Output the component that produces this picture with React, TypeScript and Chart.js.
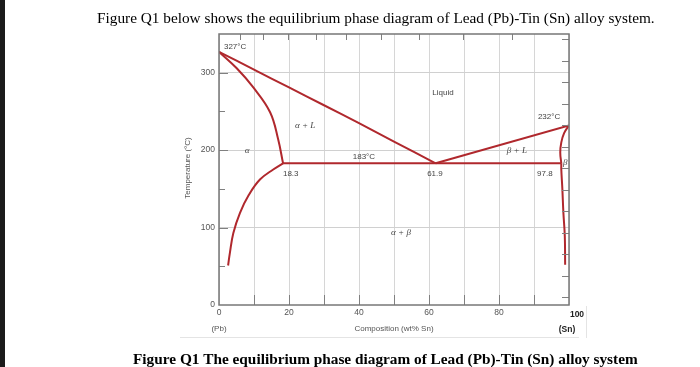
import React, { useEffect, useRef } from "react";
import { Chart, registerables } from "chart.js";

Chart.register(...registerables);

// ---- data (wt% Sn, temperature °C) ----
const liquidusLeftX = [0, 10, 20, 30, 40, 50, 61.9];
const liquidusLeftT = [327, 304, 281, 258, 235, 211, 183];
const liquidusRightX = [61.9, 100];
const liquidusRightT = [183, 232];
const alphaSolidusX = [0, 5, 9.8, 14.6, 16.9, 18.3];
const alphaSolidusT = [327, 306, 281, 249, 214, 183];
const eutecticX = [18.3, 97.8];
const eutecticT = [183, 183];
const alphaSolvusX = [18.3, 15.5, 11.7, 8.5, 6, 4.1, 3.1, 2.6];
const alphaSolvusT = [183, 175, 162, 142, 119, 93, 67, 51];
const betaSolidusX = [100, 98.6, 97.8, 97.5, 97.8];
const betaSolidusT = [232, 222, 210, 197, 183];
const betaSolvusX = [97.8, 97.8, 98.1, 98.4, 98.8, 98.9];
const betaSolvusT = [183, 175, 150, 119, 89, 52];

// axis ticks
const xTickValues = [0, 20, 40, 60, 80];
const yTickValues = [0, 100, 200, 300];
const atPercentTicksInWt = [6, 12.5, 19.7, 27.6, 36.4, 46.2, 57.2, 69.6, 83.8];
const fahrenheitTicksInC = [10, 37.8, 65.6, 93.3, 121.1, 148.9, 176.7, 204.4, 232.2, 260, 287.8, 315.6, 343.3];

// in-diagram labels
const labelTexts = ["327°C", "α + L", "α", "18.3", "183°C", "Liquid", "232°C", "β + L", "β", "61.9", "97.8", "α + β"];
const labelX = [4.6, 24.6, 8, 20.5, 41.4, 64, 94.3, 85.1, 98.9, 61.7, 93.1, 52];
const labelT = [334, 231, 200, 169, 192, 274, 243, 199, 184, 170, 170, 93.5];

const RED = "#b0282d";

function pts(xs: number[], ts: number[]) {
  return xs.map((x, i) => ({ x, y: ts[i] }));
}

const SANS = '"Liberation Sans", Arial, sans-serif';
const SERIF = '"Liberation Serif", "Times New Roman", serif';

const decor = {
  id: "decor",
  beforeDraw(chart: any) {
    const ctx = chart.ctx;
    ctx.save();
    ctx.fillStyle = "#ffffff";
    ctx.fillRect(0, 0, chart.width, chart.height);
    ctx.fillStyle = "#1b1b1b";
    ctx.fillRect(0, 0, 5, chart.height);
    ctx.restore();
  },
  afterDraw(chart: any) {
    const ctx = chart.ctx;
    const a = chart.chartArea;
    const xs = chart.scales.x;
    const ys = chart.scales.y;
    ctx.save();
    // inward ticks
    ctx.strokeStyle = "#808080";
    ctx.lineWidth = 1;
    ctx.beginPath();
    for (let v = 50; v < 350; v += 50) {
      const y = Math.round(ys.getPixelForValue(v)) + 0.5;
      ctx.moveTo(a.left, y);
      ctx.lineTo(a.left + (v % 100 === 0 ? 9 : 6), y);
    }
    for (let v = 10; v < 100; v += 10) {
      const x = Math.round(xs.getPixelForValue(v)) + 0.5;
      ctx.moveTo(x, a.bottom);
      ctx.lineTo(x, a.bottom - 10);
    }
    atPercentTicksInWt.forEach((v) => {
      const x = Math.round(xs.getPixelForValue(v)) + 0.5;
      ctx.moveTo(x, a.top);
      ctx.lineTo(x, a.top + 6);
    });
    fahrenheitTicksInC.forEach((v) => {
      const y = Math.round(ys.getPixelForValue(v)) + 0.5;
      ctx.moveTo(a.right, y);
      ctx.lineTo(a.right - 7, y);
    });
    ctx.stroke();
    // frame
    ctx.strokeStyle = "#777777";
    ctx.lineWidth = 1.5;
    ctx.strokeRect(a.left, a.top, a.right - a.left, a.bottom - a.top);

    // in-diagram labels
    ctx.fillStyle = "#444444";
    ctx.textAlign = "center";
    ctx.textBaseline = "middle";
    labelTexts.forEach((t, i) => {
      const greek = /[αβ]/.test(t);
      ctx.font = greek ? `italic 9px ${SERIF}` : `8px ${SANS}`;
      ctx.fillText(t, xs.getPixelForValue(labelX[i]), ys.getPixelForValue(labelT[i]));
    });

    // axis titles and end labels
    ctx.fillStyle = "#555555";
    ctx.font = `8px ${SANS}`;
    ctx.fillText("Composition (wt% Sn)", 394, 329);
    ctx.fillText("(Pb)", 219, 329);
    ctx.fillStyle = "#222222";
    ctx.font = `bold 8.5px ${SANS}`;
    ctx.fillText("100", 577, 315);
    ctx.fillText("(Sn)", 567, 330);
    ctx.save();
    ctx.translate(188, 168);
    ctx.rotate(-Math.PI / 2);
    ctx.fillStyle = "#555555";
    ctx.font = `8px ${SANS}`;
    ctx.fillText("Temperature (°C)", 0, 0);
    ctx.restore();

    // faint figure border
    ctx.strokeStyle = "#e4e4e4";
    ctx.lineWidth = 1;
    ctx.beginPath();
    ctx.moveTo(180, 337.5);
    ctx.lineTo(579, 337.5);
    ctx.moveTo(586.5, 306);
    ctx.lineTo(586.5, 338);
    ctx.stroke();

    // headings
    ctx.fillStyle = "#000000";
    ctx.textAlign = "left";
    ctx.textBaseline = "alphabetic";
    ctx.font = `15.3px ${SERIF}`;
    ctx.fillText("Figure Q1 below shows the equilibrium phase diagram of Lead (Pb)-Tin (Sn) alloy system.", 97, 23);
    ctx.font = `bold 15.3px ${SERIF}`;
    ctx.fillText("Figure Q1 The equilibrium phase diagram of Lead (Pb)-Tin (Sn) alloy system", 133, 364);
    ctx.restore();
  },
};

export default function App() {
  const ref = useRef<HTMLCanvasElement>(null);
  useEffect(() => {
    if (!ref.current) return;
    const line = (xs: number[], ts: number[], tension = 0) => ({
      data: pts(xs, ts),
      showLine: true,
      borderColor: RED,
      borderWidth: 2,
      pointRadius: 0,
      tension,
      fill: false,
    });
    const chart = new Chart(ref.current, {
      type: "scatter",
      data: {
        datasets: [
          line(liquidusLeftX, liquidusLeftT, 0.2),
          line(liquidusRightX, liquidusRightT),
          line(alphaSolidusX, alphaSolidusT, 0.4),
          line(eutecticX, eutecticT),
          line(alphaSolvusX, alphaSolvusT, 0.4),
          line(betaSolidusX, betaSolidusT, 0.4),
          line(betaSolvusX, betaSolvusT, 0.4),
        ] as any,
      },
      options: {
        animation: false,
        responsive: false,
        layout: { padding: { top: 34, right: 131, left: 0, bottom: 0 } },
        plugins: { legend: { display: false }, tooltip: { enabled: false } },
        scales: {
          x: {
            type: "linear",
            min: 0,
            max: 100,
            afterFit: (s: any) => { s.height = 62; },
            afterBuildTicks: (s: any) => {
              const t = [];
              for (let v = 0; v <= 100; v += 10) t.push({ value: v });
              s.ticks = t;
            },
            ticks: {
              autoSkip: false,
              maxRotation: 0,
              padding: 3,
              color: "#555555",
              font: { size: 8.5, family: SANS },
              callback: (v: any) => (xTickValues.includes(Number(v)) ? String(v) : ""),
            },
            grid: { color: "#d6d6d6", lineWidth: 1, drawTicks: false },
            border: { display: false },
          },
          y: {
            type: "linear",
            min: 0,
            max: 350,
            afterFit: (s: any) => { s.width = 219; },
            afterBuildTicks: (s: any) => {
              const t = [];
              for (let v = 0; v <= 350; v += 50) t.push({ value: v });
              s.ticks = t;
            },
            ticks: {
              autoSkip: false,
              padding: 4,
              color: "#555555",
              font: { size: 8.5, family: SANS },
              callback: (v: any) => (yTickValues.includes(Number(v)) ? String(v) : ""),
            },
            grid: {
              drawTicks: false,
              lineWidth: 1,
              color: (c: any) => {
                const v = c.tick ? c.tick.value : -1;
                return v > 0 && v < 350 && v % 100 === 0 ? "#d0d0d0" : "rgba(0,0,0,0)";
              },
            },
            border: { display: false },
          },
        },
      },
      plugins: [decor],
    });
    return () => chart.destroy();
  }, []);
  return (
    <div style={{ position: "fixed", left: 0, top: 0, width: 700, height: 367, background: "#fff" }}>
      <canvas ref={ref} width={700} height={367} style={{ display: "block", width: 700, height: 367 }} />
    </div>
  );
}
